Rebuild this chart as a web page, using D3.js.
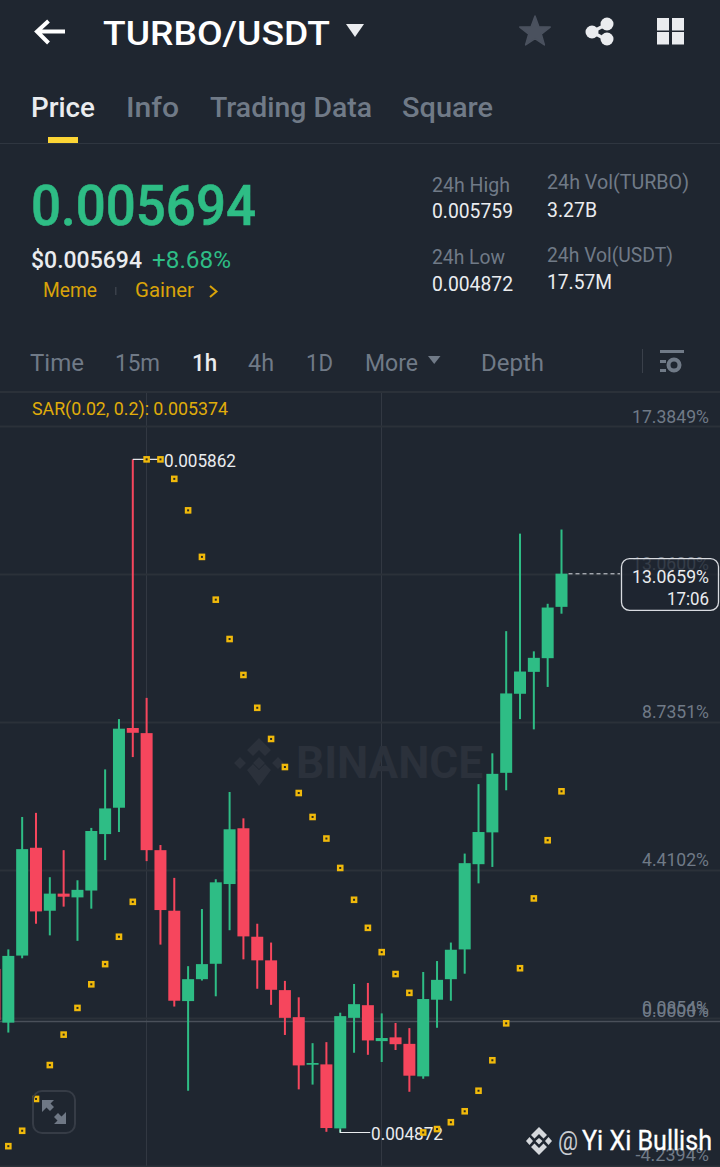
<!DOCTYPE html>
<html><head><meta charset="utf-8">
<style>html,body{margin:0;padding:0;background:#1f2630;overflow:hidden}svg{display:block}text{font-family:Roboto,"Open Sans",sans-serif}</style>
<script src="https://cdn.jsdelivr.net/npm/d3@7/dist/d3.min.js"></script>
</head><body><svg id="c" width="720" height="1167"></svg>
<script>
// percent-change values (one entry per hourly candle)
const opens =[1.52,-0.05,1.91,5.06,3.22,3.72,3.61,3.81,5.46,6.23,8.56,8.41,4.99,3.22,0.58,1.22,1.67,4.00,5.63,2.46,1.77,0.90,0.11,-1.28,-1.27,-3.14,0.09,0.46,-0.59,-0.48,-0.67,-1.62,0.62,1.22,2.09,4.58,5.51,7.25,9.56,10.20,10.60,12.10];
const closes=[0.03,1.90,5.02,3.20,3.72,3.63,3.83,5.55,6.21,8.54,8.42,4.99,3.24,0.59,1.22,1.66,4.05,5.60,2.47,1.77,0.91,0.09,-1.30,-1.23,-3.13,0.14,0.49,-0.57,-0.50,-0.68,-1.60,0.64,1.20,2.08,4.61,5.52,7.22,9.57,10.21,10.61,12.08,13.07];
const highs =[1.70,2.09,5.96,6.08,4.20,4.99,4.11,5.64,7.35,8.82,16.41,9.44,5.14,4.18,1.60,3.27,4.14,6.69,5.92,2.84,2.29,1.17,0.69,-0.65,-0.62,0.24,1.08,1.11,0.22,-0.06,-0.21,1.43,1.75,2.29,4.89,6.92,7.82,11.39,14.24,10.80,12.19,14.36];
const lows  =[-0.10,-0.34,1.83,2.84,2.50,3.34,2.34,3.28,4.70,5.52,7.71,4.67,2.23,0.42,-2.04,1.18,0.72,2.65,1.80,0.94,0.47,-0.41,-2.00,-1.86,-3.24,-3.26,-0.93,-0.99,-1.20,-0.85,-2.07,-1.69,-0.20,0.59,1.38,4.02,4.50,6.74,8.82,8.52,9.76,11.90];
const sar   =[null,-3.66,-3.21,-2.28,-1.29,-0.40,0.38,1.07,1.66,2.46,3.48,16.41,16.41,15.84,14.92,13.56,12.31,11.16,10.11,9.15,8.24,7.42,6.66,5.96,5.33,4.47,3.54,2.72,2.01,1.37,0.82,-3.26,-3.16,-2.96,-2.64,-2.04,-1.15,-0.07,1.54,3.58,5.28,6.71];
const tickValues=[17.3849,13.06,8.7351,4.4102,0.0854,0,-4.2394];
const tickLabels=["17.3849%","13.0600%","8.7351%","4.4102%","0.0854%","0.0000%","-4.2394%"];
const lastPct=13.0659, highPct=16.41, lowPct=-3.26;

const GREEN="#2EBD85",RED="#F6465D",YEL="#F0B90B",W="#EAECEF",G="#707A87";
const svg=d3.select("#c");
svg.append("rect").attr("width",720).attr("height",1167).attr("fill","#1f2630");
function label(s,x0,x1,base,size,color,weight){
  return svg.append("text").attr("x",x0).attr("y",base).attr("font-size",size).attr("fill",color)
    .attr("font-weight",weight||400).attr("textLength",x1-x0).attr("lengthAdjust","spacingAndGlyphs").text(s);
}
// header
svg.append("path").attr("d","M65 31.5H38M48.5 21L37 31.5L48.500 43").attr("fill","none").attr("stroke","#fff").attr("stroke-width",4);
label("TURBO/USDT",103,330,44.5,34,"#fff",500);
svg.append("path").attr("d","M346 24H364L355 37Z").attr("fill",W);
const star=d3.range(10).map(i=>{const r=i%2?6.6:16,a=-Math.PI/2+i*Math.PI/5;return [535+r*Math.cos(a),32+r*Math.sin(a)]});
svg.append("path").attr("d","M"+star.join("L")+"Z").attr("fill","#4A515E").attr("stroke","#4A515E").attr("stroke-width",1.5).attr("stroke-linejoin","round");
svg.append("path").attr("d","M607 24L592 32L607 40").attr("fill","none").attr("stroke",W).attr("stroke-width",3.2);
[[607,24],[592,32],[607,39]].forEach(p=>svg.append("circle").attr("cx",p[0]).attr("cy",p[1]).attr("r",6.5).attr("fill",W));
[[657,18],[672,18],[657,32],[672,32]].forEach(p=>svg.append("rect").attr("x",p[0]).attr("y",p[1]).attr("width",12).attr("height",12.5).attr("fill",W));
// tabs
label("Price",31,95,116.5,27.500,W,500);
label("Info",126,179,116.5,27.500,G,500);
label("Trading Data",210,372,116.5,27.500,G,500);
label("Square",402,493,116.5,27.500,G,500);
svg.append("rect").attr("x",48).attr("y",137).attr("width",30).attr("height",6).attr("fill","#FCD535");
svg.append("rect").attr("x",0).attr("y",143).attr("width",720).attr("height",1).attr("fill","#2F3640");
// stats
label("0.005694",31,256,225,55,GREEN,500).attr("stroke",GREEN).attr("stroke-width",.6);
label("$0.005694",31,142,267.5,23,W,500);
label("+8.68%",152,231,267.5,23,GREEN,400);
label("Meme",43,97,297,20,"#D9A30A");
label("Gainer",135,194,297,20,"#D9A30A");
svg.append("path").attr("d","M210 286L216.5 291.5L210 297").attr("fill","none").attr("stroke","#D9A30A").attr("stroke-width",2);
svg.append("rect").attr("x",115).attr("y",287).attr("width",1.5).attr("height",8).attr("fill","#3A404A");
label("24h High",432,510,191.5,20,G);
label("0.005759",432,513,218,20,W);
label("24h Low",432,505,263.5,20,G);
label("0.004872",432,513,291,20,W);
label("24h Vol(TURBO)",547,689,189,20,G);
label("3.27B",547,597,216.5,20,W);
label("24h Vol(USDT)",547,673,261.5,20,G);
label("17.57M",547,612,288.5,20,W);
// interval row
[["Time",30,84,G,400],["15m",115,160,G,400],["1h",192,217,W,500],["4h",248,274,G,400],["1D",306,333,G,400],["More",365,418,G,400],["Depth",481,544,G,400]]
 .forEach(d=>label(d[0],d[1],d[2],371,24,d[3],d[4]));
svg.append("path").attr("d","M428 356H440.5L434.2 364Z").attr("fill",G);
svg.append("rect").attr("x",642).attr("y",349).attr("width",1).attr("height",24).attr("fill","#3A404A");
svg.append("rect").attr("x",660).attr("y",350).attr("width",24).attr("height",3).attr("fill",G);
svg.append("rect").attr("x",660).attr("y",360).attr("width",6).attr("height",3).attr("fill",G);
svg.append("rect").attr("x",660).attr("y",369).attr("width",6).attr("height",3).attr("fill",G);
svg.append("circle").attr("cx",674).attr("cy",365).attr("r",5.5).attr("fill","none").attr("stroke",G).attr("stroke-width",4);

// chart
const y=d3.scaleLinear().domain([17.3849,-4.2394]).range([426,1166]);
const x=d3.scaleLinear().domain([0,41]).range([-5.5,561.5]);
svg.append("rect").attr("x",0).attr("y",391).attr("width",720).attr("height",2).attr("fill","#2B3139");
[146.5,381.5].forEach(px=>svg.append("rect").attr("x",px-.5).attr("y",393).attr("width",1).attr("height",773).attr("fill","#323842"));
// watermark
const wm=svg.append("g").attr("fill","#2B313B");
wm.append("path").attr("d","M259 738L271 750L265 756L259 750L253 756L247 750ZM240 757L246 763L240 769L234 763ZM278 757L284 763L278 769L272 763ZM259 757L265 763L259 769L253 763ZM247 770L253 764L259 770L265 764L271 770L259 786Z");
wm.append("text").attr("x",296).attr("y",778).attr("font-size",44).attr("font-weight",700).attr("textLength",187).attr("lengthAdjust","spacingAndGlyphs").text("BINANCE");
// axis
const axis=d3.axisRight(y).tickValues(tickValues).tickSize(720).tickFormat((d,i)=>tickLabels[i]);
const ax=svg.append("g").call(axis);
ax.select(".domain").remove();
ax.selectAll(".tick line").attr("stroke",d=>d===0?"#4A505A":"#2B3139").attr("stroke-width",d=>d===0?1.5:2);
ax.selectAll(".tick text").attr("x",709).attr("dy",d=>d===-4.2394?-6:(d===17.3849?-4:-4.5)).attr("text-anchor","end").attr("font-size",18)
  .attr("font-family","Roboto").attr("fill",G).attr("textLength",d=>d===-4.2394?73.5:(Math.abs(d)>=10?77:67)).attr("lengthAdjust","spacingAndGlyphs");
// candles
const idx=d3.range(opens.length);
const candles=svg.append("g").selectAll("g").data(idx).join("g").attr("fill",i=>closes[i]>=opens[i]?GREEN:RED);
candles.append("rect").attr("x",i=>x(i)-1).attr("width",2).attr("y",i=>y(highs[i])).attr("height",i=>y(lows[i])-y(highs[i]));
candles.append("rect").attr("x",i=>x(i)-6).attr("width",12).attr("y",i=>y(Math.max(opens[i],closes[i]))).attr("height",i=>Math.max(1.5,Math.abs(y(opens[i])-y(closes[i]))));
// high/low markers
svg.append("path").attr("d",`M${x(10)} ${y(highPct)}H${x(10)+30}`).attr("stroke",W).attr("stroke-width",1.2);
label("0.005862",164,236,y(highPct)+8,18.5,W);
svg.append("path").attr("d",`M${x(25)} ${y(lowPct)-3}V${y(lowPct)}H${x(25)+30}`).attr("fill","none").attr("stroke",W).attr("stroke-width",1.2);
label("0.004872",371,443,y(lowPct)+8,18.5,W);
// SAR
const dots=svg.append("g").selectAll("g").data(idx.filter(i=>sar[i]!==null)).join("g");
dots.append("rect").attr("x",i=>x(i)-3.3).attr("y",i=>y(sar[i])-3.3).attr("width",6.6).attr("height",6.6).attr("fill",YEL);
dots.append("rect").attr("x",i=>x(i)-1).attr("y",i=>y(sar[i])-1).attr("width",2).attr("height",2).attr("fill","#2a2a20");
label("SAR(0.02, 0.2): 0.005374",32,228,415,18,"#E0AD0A");
// last price tag
svg.append("line").attr("x1",x(41)+7).attr("x2",620).attr("y1",y(lastPct)).attr("y2",y(lastPct)).attr("stroke","#D8DBE0").attr("stroke-width",1).attr("stroke-dasharray","4 3");
svg.append("rect").attr("x",621.5).attr("y",558.7).attr("width",97).attr("height",51.6).attr("rx",8).attr("fill","rgba(31,38,48,.72)").attr("stroke","#D8DBE0").attr("stroke-width",1.3);
label("13.0659%",632,709,582.5,18.5,W);
label("17:06",667,709,605,18.5,W);
// expand button
svg.append("rect").attr("x",33).attr("y",1091).attr("width",42).attr("height",42).attr("rx",9).attr("fill","none").attr("stroke","#363C46").attr("stroke-width",2);
svg.append("path").attr("d","M42 1100H54L50.5 1103.5L54 1107L50 1111L46.5 1107.5L42 1112ZM66 1124H54L57.5 1120.5L54 1117L58 1113L61.5 1116.5L66 1112Z").attr("fill","#6F7885");
// author watermark
const lg=svg.append("g").attr("fill","#D5D8DC");
lg.append("path").attr("d","M539 1127L547 1135L543.5 1138.5L539 1134L534.5 1138.5L531 1135ZM529.5 1137L533 1141L529.5 1145L526 1141ZM548.5 1137L552 1141L548.5 1145L545 1141ZM539 1138L542.5 1141L539 1144.5L535.500 1141ZM531 1147L534.5 1143.500L539 1148L543.5 1143.500L547 1147L539 1155Z");
label("@",558,578,1150,25,"#C9CCD1");
label("Yi Xi Bullish",582,712,1150,27,"#fff",400).attr("stroke","#fff").attr("stroke-width",.3);
</script></body></html>
